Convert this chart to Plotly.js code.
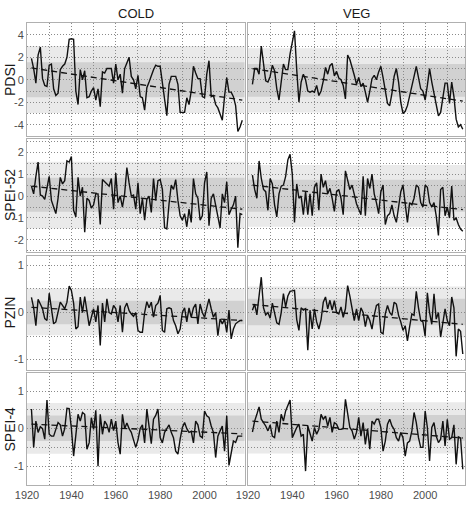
<!DOCTYPE html>
<html><head><meta charset="utf-8">
<script src="https://cdn.plot.ly/plotly-3.0.1.min.js"></script>
<style>html,body{margin:0;padding:0;background:#fff}#chart{width:474px;height:507px}</style>
</head><body><div id="chart"></div>
<script>
// ---------- DATA ----------
const columns = ['COLD', 'VEG'];
const indices = ['PDSI', 'SPEI-52', 'PZIN', 'SPEI-4'];
const firstYear = 1922;
const trendYears = [1922, 2017];
const xTickVals = [1920, 1940, 1960, 1980, 2000];
const xTickText = ['1920', '1940', '1960', '1980', '2000'];

const pdsiTicks = [-4, -2, 0, 2, 4];
const pdsiTickText = ['-4', '-2', '0', '2', '4'];
const spei52Ticks = [-2, -1, 0, 1, 2];
const spei52TickText = ['-2', '-1', '0', '1', '2'];
const pzinTicks = [-1, 0, 1];
const pzinTickText = ['-1', '0', '1'];
const spei4Ticks = [-1, 0, 1];
const spei4TickText = ['-1', '0', '1'];

const pdsiCold = [
  1.9, 1.0, -0.3, 2.2, 2.9, 0.1, -0.5, -0.6, 1.3, 1.4,
  -0.8, -1.4, -1.2, 0.9, 1.2, 1.4, 2.0, 3.6, 3.65, 3.6,
  -1.0, -2.2, 0.9, 0.0, 0.8, -1.6, -1.5, -1.0, -0.7, -1.8,
  -0.8, -2.4, 0.7, 0.6, 1.0, 1.0, 1.0, -0.3, 1.4, 0.0,
  0.5, -1.2, 1.0, 1.5, 2.0, 0.3, 0.0, -0.8, 0.4, -1.5,
  -1.6, -2.7, -0.7, -0.2, 0.4, 0.9, 1.3, 1.2, 1.2, -0.3,
  -1.6, -3.2, -0.4, 0.3, 0.3, 0.3, -0.4, -2.9, -2.9, -2.9,
  -1.6, -2.2, -1.0, 1.2, 0.6, 0.1, 0.1, -1.5, -1.6, 0.5,
  1.7, -1.5, -1.4, -2.2, -2.5, -3.0, -3.6, -1.5, 0.2, -1.1,
  -1.1, -1.5, -2.3, -4.6, -4.2, -3.6];
const pdsiVeg = [
  -0.4, 1.0, 1.0, 0.5, 3.0, 1.2, -0.1, -0.2, 0.3, 1.3,
  0.8, -0.8, -1.8, -0.2, 1.4, 0.9, 0.9, 2.3, 3.5, 4.35,
  0.9, -2.0, -0.2, 0.5, 0.0, -1.0, -1.1, -1.0, -1.1, -0.5,
  -1.4, -1.0, -0.1, 1.1, 0.5, 1.25, 1.45, 0.35, 0.75, 0.15,
  0.0, -0.5, -1.7, 2.2, 1.8, 1.2, 0.4, -0.4, 0.2, -0.6,
  -0.3, -1.1, -2.0, -1.0, 0.1, 0.4, 0.0, 0.7, 1.2, 0.2,
  -1.0, -2.1, -2.3, -1.2, 0.3, 1.0, -0.2, -2.0, -3.0, -2.8,
  -2.3, -1.5, -0.5, 0.3, 1.2, 0.2, -0.8, -1.0, -1.8, -0.5,
  1.0, -0.2, -1.2, -2.0, -3.2, -2.9, -1.5, -0.3, -0.3, -2.1,
  -0.2, -1.5, -3.5, -4.2, -4.0, -4.4];
const spei52Cold = [
  0.45, 0.1, 0.9, 1.55, 0.05, 0.0, -0.15, 0.3, 0.9, -0.2,
  -0.5, -0.8, -0.1, 0.85, 0.55, 0.7, 1.6, 1.55, 1.8, -0.65,
  -0.95, 0.85, 0.0, 0.4, -1.65, -0.1, -0.2, -0.55, -0.4, 0.1,
  0.1, -1.3, 0.75, 0.65, 0.55, 0.45, 0.8, -0.6, 1.05, -0.3,
  0.0, -0.5, 0.1, 1.3, 0.6, 0.0, 0.05, -0.6, 0.6, -0.8,
  -0.1, -1.1, -0.15, 0.0, -0.75, 0.8, -0.2, 0.7, 0.75, 0.3,
  -1.45, -1.5, -0.35, 0.5, 0.3, 0.75, -0.2, -0.9, -1.1, -0.8,
  -1.4, -0.6, -1.2, 0.8, 0.1, -0.1, -1.1, -0.9, 0.6, 1.1,
  -1.35, -0.1, 0.1, -0.4, -0.9, -1.45, 0.1, -0.3, 0.65, -0.85,
  -0.6, -0.4, 0.0, -2.35, -0.8, -0.85];
const spei52Veg = [
  0.95, 0.3, -0.1, 1.6, 0.8, 0.3, 0.2, -0.65, 0.8, 0.55,
  -0.4, -0.95, 0.1, 0.45, 0.5, 0.9, 1.65, 1.9, 1.0, -1.2,
  0.55, -0.1, 0.0, -0.85, 0.2, -0.85, 0.1, -0.9, 0.4, 0.6,
  -0.65, 1.0, 0.4, 0.7, 0.1, 0.35, -0.1, -0.7, 0.2, 0.3,
  -0.1, -0.85, 1.15, 0.7, 0.3, 0.5, 0.0, -0.35, -0.6, -0.85,
  0.9, -0.9, 0.8, 0.35, 1.0, 0.1, -0.3, -0.8, 0.2, 0.5,
  -1.3, -0.9, -0.8, -0.4, -0.9, -1.2, -0.5, 0.2, 0.5, -0.4,
  -1.2, -0.3, -0.4, -0.1, 0.5, 0.4, -0.3, -0.5, 0.5, 0.4,
  -0.3, -0.5, -0.3, -0.9, -1.8, 0.3, 0.4, -0.9, -0.5, -1.0,
  0.45, -1.1, -1.0, -1.3, -1.5, -1.6];
const pzinCold = [
  0.32, 0.1, -0.28, 0.28, 0.18, 0.08, -0.13, -0.17, 0.41, 0.1,
  -0.24, -0.2, 0.04, 0.22, 0.15, 0.08, 0.22, 0.56, 0.47, 0.2,
  -0.35, -0.3, 0.33, 0.0, 0.34, -0.02, -0.28, -0.1, 0.08, -0.2,
  0.15, -0.7, 0.2, -0.2, 0.29, 0.0, -0.03, 0.15, 0.08, -0.2,
  0.15, -0.42, 0.1, 0.2, 0.04, -0.03, -0.08, 0.0, -0.38, -0.42,
  -0.42, 0.0, 0.23, 0.1, 0.22, -0.1, 0.15, 0.2, 0.36, -0.38,
  -0.42, 0.08, 0.1, 0.08, -0.17, -0.28, -0.45, -0.35, 0.0, 0.1,
  -0.2, 0.1, -0.1, 0.1, 0.18, -0.24, 0.18, 0.0, -0.1, 0.1,
  0.29, 0.08, -0.1, 0.0, -0.49, -0.14, -0.24, -0.14, -0.42, 0.05,
  -0.56, -0.35, -0.24, -0.2, -0.17, -0.17];
const pzinVeg = [
  0.05, 0.18, -0.05, 0.3, 0.75, 0.1, -0.05, 0.0, -0.12, 0.2,
  0.0, -0.22, -0.25, 0.0, 0.4, 0.12, 0.35, 0.45, 0.46, 0.47,
  -0.15, -0.38, 0.1, 0.05, 0.08, -0.8, 0.05, -0.35, 0.08, -0.2,
  -0.35, -0.15, 0.22, 0.33, 0.08, 0.26, 0.05, 0.25, 0.0, -0.03,
  0.12, -0.1, 0.08, 0.57, 0.35, 0.1, -0.17, 0.08, -0.17, 0.1,
  0.0, -0.3, -0.06, -0.17, -0.35, -0.06, 0.15, 0.18, -0.42, -0.45,
  -0.03, 0.15, 0.0, -0.06, 0.22, 0.18, -0.06, -0.2, -0.38, -0.28,
  -0.6, -0.3, -0.03, -0.06, 0.45, 0.1, -0.17, -0.2, -0.5, 0.42,
  0.0, -0.25, 0.4, -0.14, 0.0, -0.52, -0.2, 0.08, -0.17, -0.28,
  0.33, 0.1, -0.93, -0.35, -0.4, -0.88];
const spei4Cold = [
  0.52, -0.5, 0.2, -0.1, 0.05, 0.0, -0.28, 0.76, -0.15, -0.2,
  -0.2, 0.0, 0.16, 0.1, -0.2, 0.0, 0.54, 0.53, 0.0, -0.73,
  -0.15, 0.38, 0.2, 0.43, 0.38, -0.55, -0.38, 0.29, -0.02, 0.49,
  -1.0, 0.38, -0.15, 0.2, 0.1, -0.1, 0.25, -0.05, 0.2, -0.37,
  -0.68, 0.38, 0.0, 0.15, 0.0, -0.1, -0.3, -0.5, -0.3, 0.0,
  0.1, -0.38, 0.52, 0.0, -0.4, 0.25, 0.35, 0.52, -0.24, -0.38,
  -0.1, 0.0, 0.1, -0.1, -0.24, -0.6, -0.68, -0.28, 0.03, 0.16,
  0.0, -0.1, -0.07, -0.38, 0.2, 0.1, -0.2, -0.24, 0.47, 0.34,
  0.3, 0.07, -0.1, -0.77, -0.2, -0.06, 0.07, -0.6, 0.34, -0.98,
  -0.6, -0.33, -0.37, -0.2, -0.2, -0.2];
const spei4Veg = [
  -0.09, 0.2, 0.38, 0.58, 0.25, 0.16, 0.07, -0.06, 0.1, -0.2,
  -0.24, 0.2, -0.1, 0.38, 0.2, 0.47, 0.6, 0.76, -0.24, -0.1,
  0.03, 0.12, -0.2, -0.15, -1.13, 0.07, -0.1, -0.33, 0.03, -0.15,
  -0.02, 0.38, 0.25, 0.33, 0.07, 0.3, -0.1, 0.16, 0.12, -0.02,
  -0.02, 0.0, 0.78, 0.43, 0.03, -0.06, -0.28, -0.1, 0.3, -0.2,
  0.16, -0.42, 0.0, -0.55, 0.2, 0.12, 0.25, 0.25, 0.03, -0.6,
  -0.33, 0.12, 0.25, 0.07, -0.02, -0.24, -0.33, -0.1, -0.24, -0.73,
  -0.38, -0.33, -0.06, 0.43, 0.16, -0.24, -0.5, -0.5, 0.47, 0.03,
  -0.86, 0.03, 0.16, -0.2, -0.37, -0.28, 0.2, -0.46, 0.25, -0.28,
  -0.24, 0.1, -0.95, -0.22, -0.25, -1.08];

// linear trend end values at trendYears
const pdsiColdTrend = [1.05, -1.8];
const pdsiVegTrend = [1.0, -1.9];
const spei52ColdTrend = [0.45, -0.6];
const spei52VegTrend = [0.5, -0.62];
const pzinColdTrend = [0.11, -0.17];
const pzinVegTrend = [0.17, -0.25];
const spei4ColdTrend = [0.12, -0.14];
const spei4VegTrend = [0.2, -0.25];

// band limits: [outer low, inner low, inner high, outer high]
const pdsiColdBands = [-2.95, -1.55, 1.55, 3.0];
const pdsiVegBands = [-2.9, -1.5, 1.4, 2.8];
const spei52ColdBands = [-1.48, -0.72, 0.83, 1.56];
const spei52VegBands = [-1.4, -0.71, 0.74, 1.42];
const pzinColdBands = [-0.48, -0.25, 0.25, 0.51];
const pzinVegBands = [-0.53, -0.27, 0.29, 0.55];
const spei4ColdBands = [-0.67, -0.33, 0.35, 0.68];
const spei4VegBands = [-0.66, -0.32, 0.36, 0.7];

// ---------- ASSEMBLY ----------
const series = [[pdsiCold, pdsiVeg], [spei52Cold, spei52Veg], [pzinCold, pzinVeg], [spei4Cold, spei4Veg]];
const trends = [[pdsiColdTrend, pdsiVegTrend], [spei52ColdTrend, spei52VegTrend], [pzinColdTrend, pzinVegTrend], [spei4ColdTrend, spei4VegTrend]];
const bands = [[pdsiColdBands, pdsiVegBands], [spei52ColdBands, spei52VegBands], [pzinColdBands, pzinVegBands], [spei4ColdBands, spei4VegBands]];
const yTicks = [[pdsiTicks, pdsiTickText], [spei52Ticks, spei52TickText], [pzinTicks, pzinTickText], [spei4Ticks, spei4TickText]];

const W = 474, H = 507;
const colPx = [[27, 244.5], [248, 465]];
const rowPx = [[23, 136], [139, 252], [256, 370], [373, 485]];
const yRanges = [[-5, 5.05], [-2.55, 2.6], [-1.22, 1.2], [-1.5, 1.48]];
const yMinor = [1, 0.5, 0.5, 0.5];

const GRID = '#8a8a8a', GRIDDASH = '1px,2px', BORDER = '#b0b0b0';
const FONT = 'Liberation Sans, Arial, sans-serif';
const tickFont = {family: FONT, size: 11, color: '#4d4d4d'};

const traces = [], shapes = [], annotations = [];
const layout = {
  width: W, height: H, margin: {l: 0, r: 0, t: 0, b: 0},
  paper_bgcolor: '#fff', plot_bgcolor: '#fff', showlegend: false,
  font: {family: FONT, color: '#4d4d4d', size: 11}
};

for (let r = 0; r < 4; r++) {
  for (let c = 0; c < 2; c++) {
    const idx = r * 2 + c + 1;
    const xs = idx === 1 ? '' : String(idx);
    const vals = series[r][c];
    const yrs = vals.map((_, i) => firstYear + i);
    layout['xaxis' + xs] = {
      domain: [colPx[c][0] / W, colPx[c][1] / W], anchor: 'y' + xs,
      range: [1920, 2018], tickmode: 'array', tickvals: xTickVals, ticktext: xTickText,
      showticklabels: r === 3, ticks: '', tickfont: tickFont, color: '#4d4d4d',
      showgrid: true, gridcolor: GRID, griddash: GRIDDASH, gridwidth: 1,
      minor: {tickmode: 'linear', tick0: 1920, dtick: 10, showgrid: true, gridcolor: GRID, griddash: GRIDDASH, gridwidth: 1, ticks: ''},
      zeroline: false, showline: true, mirror: true, linecolor: BORDER, linewidth: 1, fixedrange: true
    };
    layout['yaxis' + xs] = {
      domain: [1 - rowPx[r][1] / H, 1 - rowPx[r][0] / H], anchor: 'x' + xs,
      range: yRanges[r], tickmode: 'array', tickvals: yTicks[r][0], ticktext: yTicks[r][1],
      showticklabels: c === 0, ticks: '', tickfont: tickFont, color: '#4d4d4d',
      showgrid: true, gridcolor: GRID, griddash: GRIDDASH, gridwidth: 1,
      minor: {tickmode: 'linear', tick0: 0, dtick: yMinor[r], showgrid: true, gridcolor: GRID, griddash: GRIDDASH, gridwidth: 1, ticks: ''},
      zeroline: false, showline: true, mirror: true, linecolor: BORDER, linewidth: 1, fixedrange: true
    };
    const b = bands[r][c];
    shapes.push({type: 'rect', layer: 'below', xref: 'x' + xs + ' domain', yref: 'y' + xs,
      x0: 0, x1: 1, y0: b[0], y1: b[3], fillcolor: '#eaeaea', line: {width: 0}});
    shapes.push({type: 'rect', layer: 'below', xref: 'x' + xs + ' domain', yref: 'y' + xs,
      x0: 0, x1: 1, y0: b[1], y1: b[2], fillcolor: '#d1d1d1', line: {width: 0}});
    traces.push({type: 'scatter', mode: 'lines', x: yrs, y: vals, xaxis: 'x' + xs, yaxis: 'y' + xs,
      line: {color: '#111', width: 1.4}, hoverinfo: 'skip'});
    traces.push({type: 'scatter', mode: 'lines', x: trendYears, y: trends[r][c], xaxis: 'x' + xs, yaxis: 'y' + xs,
      line: {color: '#111', width: 1.3, dash: '6px,4px'}, hoverinfo: 'skip'});
  }
  annotations.push({text: indices[r], xref: 'paper', yref: 'paper', x: 9.5 / W,
    y: 1 - (rowPx[r][0] + rowPx[r][1]) / 2 / H, textangle: -90, showarrow: false,
    xanchor: 'center', yanchor: 'middle', font: {family: FONT, size: 14, color: '#1a1a1a'}});
}
for (let c = 0; c < 2; c++) {
  annotations.push({text: columns[c], xref: 'paper', yref: 'paper',
    x: (colPx[c][0] + colPx[c][1]) / 2 / W, y: 1 - 13 / H, showarrow: false,
    xanchor: 'center', yanchor: 'middle', font: {family: FONT, size: 13, color: '#1a1a1a'}});
}
layout.shapes = shapes;
layout.annotations = annotations;
Plotly.newPlot('chart', traces, layout, {staticPlot: true, displayModeBar: false});
</script></body></html>
